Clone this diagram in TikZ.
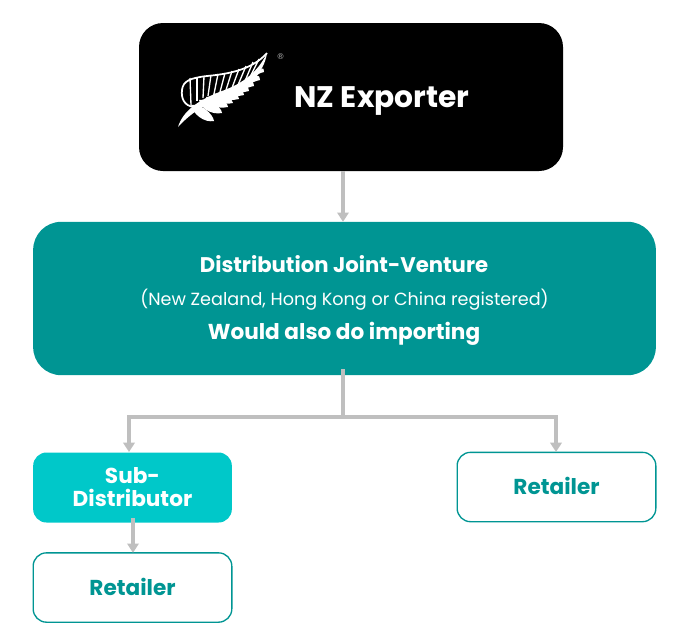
\documentclass[tikz,border=0pt]{standalone}
\usepackage{fontspec}
\setmainfont{Poppins}
\newfontfamily\markfont{DejaVu Sans}
\usetikzlibrary{arrows.meta,calc}
\definecolor{jvteal}{HTML}{009593}
\definecolor{subcyan}{HTML}{00C8C9}
\definecolor{linkgrey}{HTML}{BFBFBF}
\begin{document}
\begin{tikzpicture}[x=0.75pt,y=-0.75pt]
\tikzstyle{every node}+=[inner sep=0pt,outer sep=0pt,align=center]
\tikzstyle{link}=[draw=linkgrey,line width=3pt,-{Triangle[length=7pt,width=8.5pt]}]
\tikzstyle{plainlink}=[draw=linkgrey,line width=3pt]
\tikzstyle{retail}=[draw=jvteal,line width=1pt,fill=white,rounded corners=10pt,minimum width=149pt,minimum height=52pt,text depth=1.5pt,text=jvteal,font=\fontsize{16.2}{18}\selectfont\bfseries]
\useasboundingbox (0,0) rectangle (681,637);
\node [fill=black,rounded corners=18pt,minimum width=318pt,minimum height=111pt] (exporter) at (351,97) {};
\node [text=white,font=\fontsize{22.3}{24}\selectfont\bfseries] (exportertext) at (382,101.5) {NZ Exporter};
\node [fill=jvteal,rounded corners=21pt,minimum width=467pt,minimum height=115pt] (venture) at (344.5,298.5) {};
\node [text=white,font=\fontsize{15.9}{18}\selectfont\bfseries] (venturetitle) at (344,264) {Distribution Joint-Venture};
\node [text=white,font=\fontsize{13.2}{14}\selectfont] (venturenote) at (344.5,300) {(New Zealand, Hong Kong or China registered)};
\node [text=white,font=\fontsize{16.2}{18}\selectfont\bfseries] (venturemore) at (344,334) {Would also do importing};
\node [fill=subcyan,rounded corners=10pt,minimum width=149pt,minimum height=52.5pt,text=white,font=\fontsize{16.2}{17.2}\selectfont\bfseries] (subdist) at (132.5,487.5) {Sub-\\Distributor};
\node [retail] (retailleft) at (132.5,587.5) {Retailer};
\node [retail] (retailright) at (556.5,487) {Retailer};
% connectors
\coordinate (trunk) at (343,417);
\coordinate (subin) at (129,452);
\coordinate (retin) at (556,452);
\coordinate (subout) at (133,518);
\draw [link] (trunk |- exporter.south) -- (trunk |- venture.north);
\draw [plainlink] (343,369) -- (trunk);
\draw [link] (trunk) -| (subin);
\draw [link] (trunk) -| (retin);
\draw [link] (subout) -- (subout |- retailleft.north);
% fern
\fill [white] (178,127) .. controls (183,111) and (198,100) .. (222,91) .. controls (242,84) and (258,72) .. (267,53) .. controls (264,74) and (246,90) .. (225,97) .. controls (204,104) and (190,114) .. (178,127) -- cycle;
\draw [white,line width=1.3pt] (194,107) .. controls (184,106) and (181,98) .. (182,90) .. controls (183,81) and (190,78) .. (207,76) .. controls (228,74) and (252,70) .. (267,53);
\foreach \ux/\uy/\sx/\sy in {190/78/191/105,197/77/197/101,204/76/203/98,211/75/208/96,218/74/214/94,225/73/220/92,232/71/226/90,239/69/232/88,246/66/238/85,253/62/245/81,259/59/251/75}
  \draw [white,line width=1pt] (\ux,\uy) -- (\sx,\sy);
\foreach \bx/\by/\tx/\ty in {191/105/214/121,199/100/222/113,206/97/228/107,213/94/233/103,220/92/239/99,227/89/244/95,234/86/249/91,241/83/254/86,248/78/260/80,254/72/264/72}
  \fill [white] (\bx,\by) .. controls ($(\bx,\by)+(2,9)$) and ($(\tx,\ty)+(-10,2)$) .. (\tx,\ty) .. controls ($(\tx,\ty)+(-1,-7)$) and ($(\bx,\by)+(10,-2)$) .. (\bx,\by) -- cycle;
\node [text=white!70!black,font=\markfont\fontsize{6}{7}\selectfont] (regmark) at (280.5,57) {®};
\end{tikzpicture}
\end{document}
